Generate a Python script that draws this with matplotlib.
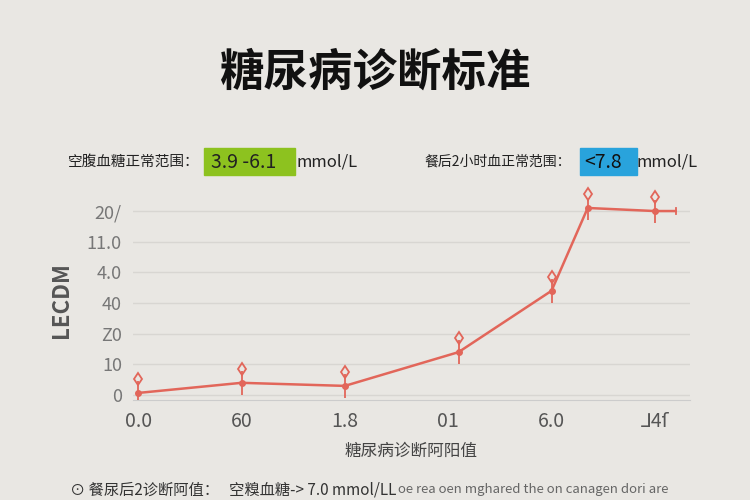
import matplotlib
matplotlib.use("Agg")
import matplotlib.pyplot as plt
from matplotlib.patches import Rectangle

plt.rcParams['font.family'] = ['Noto Sans CJK SC', 'DejaVu Sans']

x_vals = [0, 1, 2, 3.1, 4, 4.35, 5, 5.2]
y_vals = [0.07, 0.4, 0.3, 1.4, 3.4, 6.1, 6.0, 6.0]
err_pts = [0, 1, 2, 3, 4, 5, 6]
x_ticks = [0, 1, 2, 3, 4, 5]
x_labels = ["0.0", "60", "1.8", "01", "6.0", "ᒧ4ſ"]
y_ticks = [0, 1, 2, 3, 4, 5, 6]
y_labels = ["0", "10", "Z0", "40", "4.0", "11.0", "20/"]

bg = '#e9e7e3'
red = '#e2665a'
fig = plt.figure(figsize=(7.5, 5), dpi=100, facecolor=bg)
ax = fig.add_axes([133/750, 0.2, (690-133)/750, 0.4], facecolor=bg)

ax.plot(x_vals, y_vals, color=red, lw=1.8, zorder=3)
ex = [x_vals[i] for i in err_pts]
ey = [y_vals[i] for i in err_pts]
ax.errorbar(ex, ey, yerr=0.4, fmt='o', color=red, ms=4, elinewidth=1.3, capsize=0, zorder=4)
ax.plot(ex, [v + 0.45 for v in ey], 'd', mfc='none', mec=red, ms=6, mew=1.3, zorder=4, clip_on=False)
ax.plot([5.2, 5.2], [5.9, 6.1], color=red, lw=1.3)

ax.set_xlim(-0.05, 5.34)
ax.set_ylim(-0.16, 6.36)
ax.set_xticks(x_ticks)
ax.set_xticklabels(x_labels, fontsize=14, color='#555555')
ax.set_yticks(y_ticks)
ax.set_yticklabels(y_labels, fontsize=13, color='#777777')
ax.grid(axis='y', color='#d8d6d2', lw=1)
ax.grid(axis='x', visible=False)
ax.tick_params(length=0, pad=8)
for s in ['top', 'right', 'left']:
    ax.spines[s].set_visible(False)
ax.spines['bottom'].set_color('#cccccc')
ax.set_ylabel("LECDM", fontsize=16, fontweight='bold', color='#555555', labelpad=10)
ax.set_xlabel("糖尿病诊断阿阳值", fontsize=12, color='#444444', labelpad=8)

fig.text(0.5, 0.855, "糖尿病诊断标准", ha='center', va='center', fontsize=32, fontweight='bold', color='#111111')

fig.text(68/750, 1-162/500, "空腹血糖正常范围：", ha='left', va='center', fontsize=10.5, color='#222222')
fig.patches.append(Rectangle((204/750, 1-175/500), 91/750, 27/500, transform=fig.transFigure, color='#8dc21f'))
fig.text(211/750, 1-162/500, "3.9 -6.1", ha='left', va='center', fontsize=14, color='#222222')
fig.text(297/750, 1-162/500, "mmol/L", ha='left', va='center', fontsize=12, color='#222222')

fig.text(424/750, 1-162/500, "餐后2小时血正常范围：", ha='left', va='center', fontsize=10, color='#222222')
fig.patches.append(Rectangle((580/750, 1-175/500), 57/750, 27/500, transform=fig.transFigure, color='#29a3dc'))
fig.text(584/750, 1-162/500, "<7.8", ha='left', va='center', fontsize=14, color='#111111')
fig.text(637/750, 1-162/500, "mmol/L", ha='left', va='center', fontsize=12, color='#222222')

fig.text(70/750, 1-490/500, "⊙ 餐尿后2诊断阿值：   空糗血糖-> 7.0 mmol/LL", ha='left', va='center', fontsize=11, color='#333333')
fig.text(398/750, 1-490/500, "oe rea oen mghared the on canagen dori are", ha='left', va='center', fontsize=9.5, color='#666666')

fig.savefig("out.png", dpi=100, facecolor=bg)
